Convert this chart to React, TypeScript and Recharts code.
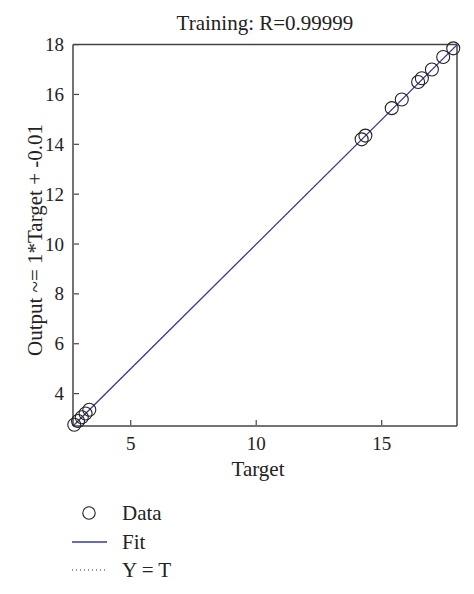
import { ComposedChart, Scatter, XAxis, YAxis, Legend } from "recharts"

// values
const targets = [2.75, 2.9, 3.05, 3.2, 3.35, 14.2, 14.35, 15.4, 15.8, 16.45, 16.6, 17.0, 17.45, 17.85]
const outputs = [2.75, 2.9, 3.05, 3.2, 3.35, 14.2, 14.35, 15.45, 15.8, 16.5, 16.65, 17.0, 17.5, 17.85]
const fitX = [2.7, 18]
const fitY = [2.7, 17.99]
const xTicks = [5, 10, 15]
const yTicks = [4, 6, 8, 10, 12, 14, 16, 18]
const legendItems = ["Data", "Fit", "Y = T"]

const points = targets.map((t, i) => ({ x: t, y: outputs[i] }))
const fitLine = fitX.map((x, i) => ({ x, y: fitY[i] }))
const identity = fitX.map((x) => ({ x, y: x }))

const FONT = "'Liberation Serif', 'DejaVu Serif', serif"
const AXIS = "#444"
const TEXT = "#222"
const FIT = "#3a3a96"

// axes are 1px thick so recharts still draws them; ticks point into the box
const BottomTick = (p: any) => (
  <g>
    <line x1={p.x} y1={p.y - 1} x2={p.x} y2={p.y - 6} stroke={AXIS} strokeWidth={1.2} />
    <text x={p.x} y={p.y + 24} textAnchor="middle" fontSize={19} fill={TEXT} fontFamily={FONT}>
      {p.payload.value}
    </text>
  </g>
)

const TopTick = (p: any) => (
  <line x1={p.x} y1={p.y + 1} x2={p.x} y2={p.y + 6} stroke={AXIS} strokeWidth={1.2} />
)

const LeftTick = (p: any) => (
  <g>
    <line x1={p.x + 1} y1={p.y} x2={p.x + 6} y2={p.y} stroke={AXIS} strokeWidth={1.2} />
    <text x={p.x - 9} y={p.y + 6.5} textAnchor="end" fontSize={19} fill={TEXT} fontFamily={FONT}>
      {p.payload.value}
    </text>
  </g>
)

const RightTick = (p: any) => (
  <line x1={p.x - 1} y1={p.y} x2={p.x - 6} y2={p.y} stroke={AXIS} strokeWidth={1.2} />
)

const Ring = (p: any) => (
  <circle cx={p.cx} cy={p.cy} r={6.5} fill="none" stroke="#222" strokeWidth={1.1} />
)

const NoDot = () => <g />

function LegendBox() {
  return (
    <svg width={200} height={90} style={{ display: "block" }}>
      <circle cx={29} cy={16} r={6.2} fill="none" stroke="#222" strokeWidth={1.1} />
      <line x1={12} y1={45} x2={47} y2={45} stroke={FIT} strokeWidth={1.3} />
      <line x1={12} y1={73} x2={47} y2={73} stroke="#333" strokeWidth={1.2} strokeDasharray="1 3" />
      {legendItems.map((s, i) => (
        <text key={s} x={62} y={23 + i * 28.5} fontSize={21} fill={TEXT} fontFamily={FONT}>
          {s}
        </text>
      ))}
    </svg>
  )
}

export default function App() {
  return (
    <div style={{ position: "absolute", left: 0, top: 0, width: 474, height: 594, background: "#fff" }}>
      <ComposedChart
        width={474}
        height={594}
        margin={{ top: 43.6, right: 16, bottom: 167, left: 72 }}
      >
        <text x={265} y={30} textAnchor="middle" fontSize={21} fill={TEXT} fontFamily={FONT}>
          Training: R=0.99999
        </text>
        <XAxis
          type="number"
          dataKey="x"
          domain={[2.7, 18]}
          ticks={xTicks}
          height={1}
          tickSize={0}
          tickMargin={0}
          tickLine={false}
          tick={BottomTick}
          stroke={AXIS}
          strokeWidth={1.5}
        />
        <XAxis
          xAxisId="top"
          orientation="top"
          type="number"
          dataKey="x"
          domain={[2.7, 18]}
          ticks={xTicks}
          height={1}
          tickSize={0}
          tickMargin={0}
          tickLine={false}
          tick={TopTick}
          stroke={AXIS}
          strokeWidth={1.5}
        />
        <YAxis
          type="number"
          dataKey="y"
          domain={[2.7, 18]}
          ticks={yTicks}
          width={1}
          tickSize={0}
          tickMargin={0}
          tickLine={false}
          tick={LeftTick}
          stroke={AXIS}
          strokeWidth={1.5}
        />
        <YAxis
          yAxisId="right"
          orientation="right"
          type="number"
          dataKey="y"
          domain={[2.7, 18]}
          ticks={yTicks}
          width={1}
          tickSize={0}
          tickMargin={0}
          tickLine={false}
          tick={RightTick}
          stroke={AXIS}
          strokeWidth={1.5}
        />
        <Scatter
          name="Y = T"
          data={identity}
          line={{ stroke: "#333", strokeWidth: 1, strokeDasharray: "1 3" }}
          shape={NoDot}
          isAnimationActive={false}
        />
        <Scatter
          name="Fit"
          data={fitLine}
          line={{ stroke: FIT, strokeWidth: 1.3 }}
          shape={NoDot}
          isAnimationActive={false}
        />
        <Scatter name="Data" data={points} shape={Ring} isAnimationActive={false} />
        <text x={258} y={476} textAnchor="middle" fontSize={21} fill={TEXT} fontFamily={FONT}>
          Target
        </text>
        <text
          transform="translate(42,240) rotate(-90)"
          textAnchor="middle"
          fontSize={21}
          fill={TEXT}
          fontFamily={FONT}
        >
          Output ~= 1*Target + -0.01
        </text>
        <Legend
          layout="vertical"
          align="center"
          verticalAlign="middle"
          content={() => <LegendBox />}
          wrapperStyle={{ left: 60, top: 497, width: 200 }}
        />
      </ComposedChart>
    </div>
  )
}
